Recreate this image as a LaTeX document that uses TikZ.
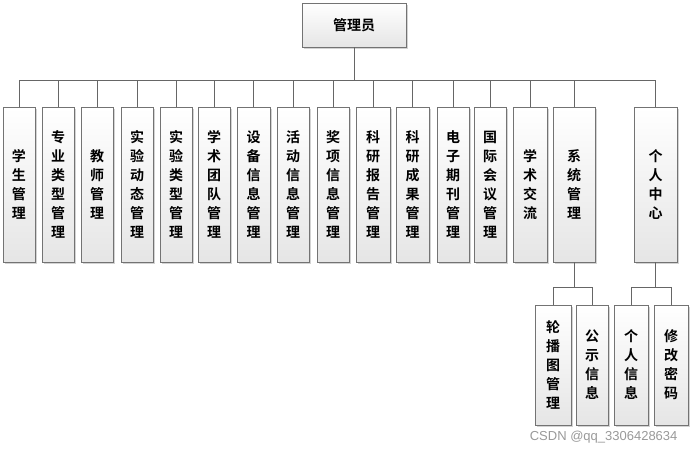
\documentclass[tikz,border=0pt]{standalone}
\usepackage{fontspec}
\newfontfamily\cjk{Noto Sans CJK SC}[BoldFont={Noto Sans CJK SC Bold}]
\newfontfamily\wmfont{Liberation Sans}
\usetikzlibrary{shadows}
\begin{document}
\begin{tikzpicture}[x=1pt,y=-1pt,
  box/.style={draw=black!55, line width=0.6pt, top color=white, bottom color=black!10,
    drop shadow={shadow xshift=1.5pt, shadow yshift=-1.5pt, opacity=0.35},
    font=\cjk\bfseries\fontsize{14}{19}\selectfont, align=center, inner sep=0pt},
  ln/.style={draw=black!60, line width=0.7pt}]
\useasboundingbox (0,0) rectangle (693,456);
\node[box, minimum width=104pt, minimum height=44pt] (root) at (354,25) {管理员};
\coordinate (bus) at (0,80);
\foreach \n/\xa/\xb/\t in {
 a/3/35/{学\\生\\管\\理}, b/42/74/{专\\业\\类\\型\\管\\理}, c/81/113/{教\\师\\管\\理},
 d/121/153/{实\\验\\动\\态\\管\\理}, e/160/192/{实\\验\\类\\型\\管\\理},
 f/198/230/{学\\术\\团\\队\\管\\理}, g/237/270/{设\\备\\信\\息\\管\\理},
 h/277/309/{活\\动\\信\\息\\管\\理}, i/317/349/{奖\\项\\信\\息\\管\\理},
 j/356/390/{科\\研\\报\\告\\管\\理}, k/396/429/{科\\研\\成\\果\\管\\理},
 l/437/469/{电\\子\\期\\刊\\管\\理}, m/474/506/{国\\际\\会\\议\\管\\理},
 n/513/547/{学\\术\\交\\流}, o/553/595/{系\\统\\管\\理}, p/634/677/{个\\人\\中\\心}}{
  \node[box, minimum width={\xb-\xa}, minimum height=155pt] (\n) at ({(\xa+\xb)/2},184.5) {\t};
  \draw[ln] (\n.north) -- (\n.north |- bus);
}
\draw[ln] (a.north |- bus) -- (p.north |- bus);
\draw[ln] (root.south) -- (root.south |- bus);
\foreach \n/\xa/\xb/\t in {q/535/571/{轮\\播\\图\\管\\理}, r/576/608/{公\\示\\信\\息},
 s/614/648/{个\\人\\信\\息}, t/654/688/{修\\改\\密\\码}}{
  \node[box, minimum width={\xb-\xa}, minimum height=120pt] (\n) at ({(\xa+\xb)/2},365) {\t};
}
\coordinate (bus2) at (0,287);
\foreach \pp/\u/\v in {o/q/r, p/s/t}{
  \draw[ln] (\pp.south) -- (\pp.south |- bus2);
  \draw[ln] (\u.north) -- (\u.north |- bus2) -- (\v.north |- bus2) -- (\v.north);
}
\node[text=black!40, font=\wmfont\fontsize{13}{14}\selectfont, anchor=east] (wm) at (681,437) {CSDN @qq\_3306428634};
\end{tikzpicture}
\end{document}
